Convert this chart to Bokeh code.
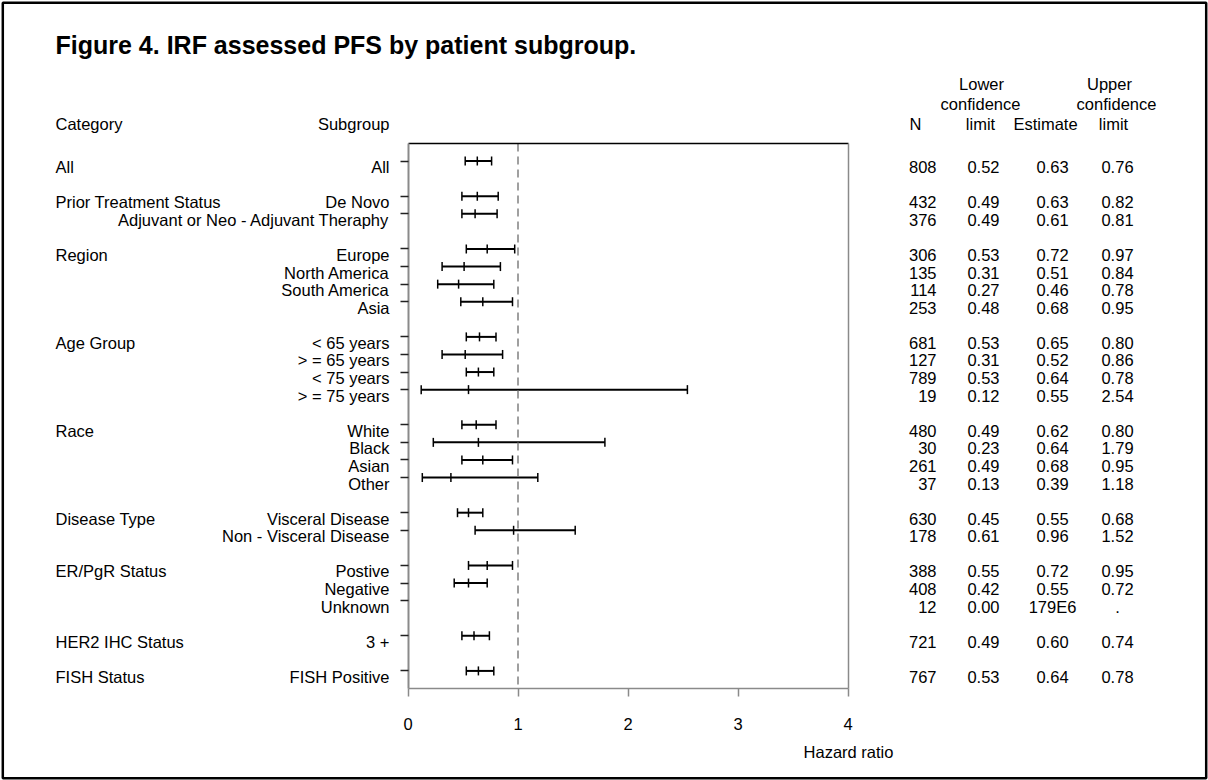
import math
from bokeh.plotting import figure
from bokeh.models import (ColumnDataSource, Label, Whisker, TeeHead, FixedTicker,
                          LinearAxis, Range1d, BoxAnnotation)
from bokeh.core.properties import value
from bokeh.embed import file_html
from bokeh.resources import INLINE

# ---- data -----------------------------------------------------------------
categories = ["All", "Prior Treatment Status", "Region", "Age Group", "Race",
              "Disease Type", "ER/PgR Status", "HER2 IHC Status", "FISH Status"]
subgroups = [
    ["All"],
    ["De Novo", "Adjuvant or Neo - Adjuvant Theraphy"],
    ["Europe", "North America", "South America", "Asia"],
    ["< 65 years", "> = 65 years", "< 75 years", "> = 75 years"],
    ["White", "Black", "Asian", "Other"],
    ["Visceral Disease", "Non - Visceral Disease"],
    ["Postive", "Negative", "Unknown"],
    ["3 +"],
    ["FISH Positive"],
]
n_patients = [808, 432, 376, 306, 135, 114, 253, 681, 127, 789, 19,
              480, 30, 261, 37, 630, 178, 388, 408, 12, 721, 767]
lower_cl = [0.52, 0.49, 0.49, 0.53, 0.31, 0.27, 0.48, 0.53, 0.31, 0.53, 0.12,
            0.49, 0.23, 0.49, 0.13, 0.45, 0.61, 0.55, 0.42, 0.00, 0.49, 0.53]
estimate = [0.63, 0.63, 0.61, 0.72, 0.51, 0.46, 0.68, 0.65, 0.52, 0.64, 0.55,
            0.62, 0.64, 0.68, 0.39, 0.55, 0.96, 0.72, 0.55, 179e6, 0.60, 0.64]
upper_cl = [0.76, 0.82, 0.81, 0.97, 0.84, 0.78, 0.95, 0.80, 0.86, 0.78, 2.54,
            0.80, 1.79, 0.95, 1.18, 0.68, 1.52, 0.95, 0.72, None, 0.74, 0.78]
x_ticks = [0, 1, 2, 3, 4]

# ---- layout constants (canvas pixels) --------------------------------------
W, H = 1208, 780
FL, FR, FT, FB = 407.5, 847.5, 143, 688   # edges of the hazard-ratio panel
X0, X1 = 0, 4
Y_TOP, Y_BOT = -1, 30
FONT = "Liberation Sans"
FS = "16.5px"


def px2x(px):
    return X0 + (px - FL) * (X1 - X0) / (FR - FL)


def py2y(py):
    return Y_TOP + (py - FT) * (Y_BOT - Y_TOP) / (FB - FT)


ROW_PX = (FB - FT) / (Y_BOT - Y_TOP)
TEXT_DROP = 6 / ROW_PX  # labels sit slightly below their tick

# row positions: one blank row between groups
rows, sub_col, cat_rows = [], [], []
r = 0
for gi, (cat, subs) in enumerate(zip(categories, subgroups)):
    if gi > 0:
        r += 1
    cat_rows.append(r)
    for s in subs:
        rows.append(r)
        sub_col.append(s)
        r += 1


def fmt_est(v):
    return f"{v / 1e6:.0f}E6" if v >= 1e5 else f"{v:.2f}"


table = ColumnDataSource(dict(
    ty=[y + TEXT_DROP for y in rows],
    sub=sub_col,
    n=[str(v) for v in n_patients],
    lo=[f"{v:.2f}" for v in lower_cl],
    est=[fmt_est(v) for v in estimate],
    up=[f"{v:.2f}" if v is not None else "." for v in upper_cl],
))
cat_table = ColumnDataSource(dict(ty=[y + TEXT_DROP for y in cat_rows], cat=categories))

keep = [i for i, u in enumerate(upper_cl) if u is not None]
bars = ColumnDataSource(dict(
    row=[rows[i] for i in keep],
    lo=[lower_cl[i] for i in keep],
    est=[estimate[i] for i in keep],
    up=[upper_cl[i] for i in keep],
))

# ---- figure: the frame fills the canvas, axes are pinned inside it ----------
p = figure(width=W, height=H,
           x_range=Range1d(px2x(0), px2x(W)), y_range=Range1d(py2y(H), py2y(0)),
           min_border=0, x_axis_location=None, y_axis_location=None,
           toolbar_location=None, output_backend="svg",
           outline_line_color=None, background_fill_color="white",
           border_fill_color="white")
p.xgrid.visible = False
p.ygrid.visible = False

AX_GRAY = "#8a8a8a"

x_axis = LinearAxis(fixed_location=Y_BOT, bounds=(X0, X1),
                    ticker=FixedTicker(ticks=x_ticks),
                    axis_line_color=AX_GRAY, axis_line_width=1.5,
                    major_tick_line_color=AX_GRAY, major_tick_line_width=1.5,
                    major_tick_out=8, major_tick_in=0,
                    minor_tick_out=0, minor_tick_in=0,
                    major_label_text_font=FONT, major_label_text_font_size=FS,
                    major_label_text_color="black", major_label_standoff=21)
p.add_layout(x_axis, "below")

# row ticks only; the subgroup names are drawn as their own text column
y_axis = LinearAxis(fixed_location=X0, bounds=(Y_TOP, Y_BOT),
                    ticker=FixedTicker(ticks=rows),
                    axis_line_color=AX_GRAY, axis_line_width=2,
                    major_tick_line_color="#222222", major_tick_line_width=1.5,
                    major_tick_out=8, major_tick_in=0,
                    minor_tick_out=0, minor_tick_in=0,
                    major_label_text_color=None)
p.add_layout(y_axis, "left")

right_axis = LinearAxis(fixed_location=X1, bounds=(Y_TOP, Y_BOT),
                        ticker=FixedTicker(ticks=[]), axis_line_color=AX_GRAY,
                        axis_line_width=1.5, major_label_text_color=None,
                        major_tick_out=0, minor_tick_out=0)
p.add_layout(right_axis, "right")

top_axis = LinearAxis(fixed_location=Y_TOP, bounds=(X0, X1),
                      ticker=FixedTicker(ticks=[]), axis_line_color="black",
                      axis_line_width=1.5, major_label_text_color=None,
                      major_tick_out=0, minor_tick_out=0)
p.add_layout(top_axis, "above")

# reference line at hazard ratio 1, limited to the panel
p.segment(x0=[1], y0=[Y_TOP], x1=[1], y1=[Y_BOT], line_color="#808080",
          line_dash="8 5", line_width=1.5)

# confidence intervals with end caps, and the point estimate tick
p.add_layout(Whisker(source=bars, base="row", lower="lo", upper="up", dimension="width",
                     line_color="black", line_width=2,
                     lower_head=TeeHead(size=9, line_color="black", line_width=1.5),
                     upper_head=TeeHead(size=9, line_color="black", line_width=1.5)))
p.scatter(x="est", y="row", source=bars, marker="dash", angle=math.pi / 2, size=9,
          line_color="black", line_width=1.5)

# ---- text columns ---------------------------------------------------------------
def column(src, field, px, align):
    p.text(x=px2x(px), y="ty", text=field, source=src,
           text_align=align, text_baseline="middle",
           text_font=value(FONT), text_font_size=FS, text_color="black")


column(cat_table, "cat", 55, "left")
column(table, "sub", 389, "right")
column(table, "n", 936, "right")
column(table, "lo", 999, "right")
column(table, "est", 1052, "center")
column(table, "up", 1117, "center")


def label(text, px, py, align="center", size=FS, style="normal"):
    p.add_layout(Label(x=px2x(px), y=py2y(py), text=text, text_align=align,
                       text_baseline="middle", text_font=FONT, text_font_size=size,
                       text_font_style=style, text_color="black"))


label("Figure 4. IRF assessed PFS by patient subgroup.", 55, 44, "left", "25px", "bold")
label("Category", 55, 123, "left")
label("Subgroup", 389, 123, "right")
label("N", 915, 123)
label("Lower", 981, 83)
label("confidence", 980, 103)
label("limit", 980, 123)
label("Estimate", 1045, 123)
label("Upper", 1109, 83)
label("confidence", 1116, 103)
label("limit", 1113, 123)
label("Hazard ratio", 848, 751)

# outer frame around the whole figure
p.add_layout(BoxAnnotation(left=px2x(2.3), right=px2x(1205.7), top=py2y(2.3),
                           bottom=py2y(777.7), fill_alpha=0, line_color="black",
                           line_alpha=1.0, line_width=2.5))

open("out.html", "w").write(file_html(p, INLINE))
